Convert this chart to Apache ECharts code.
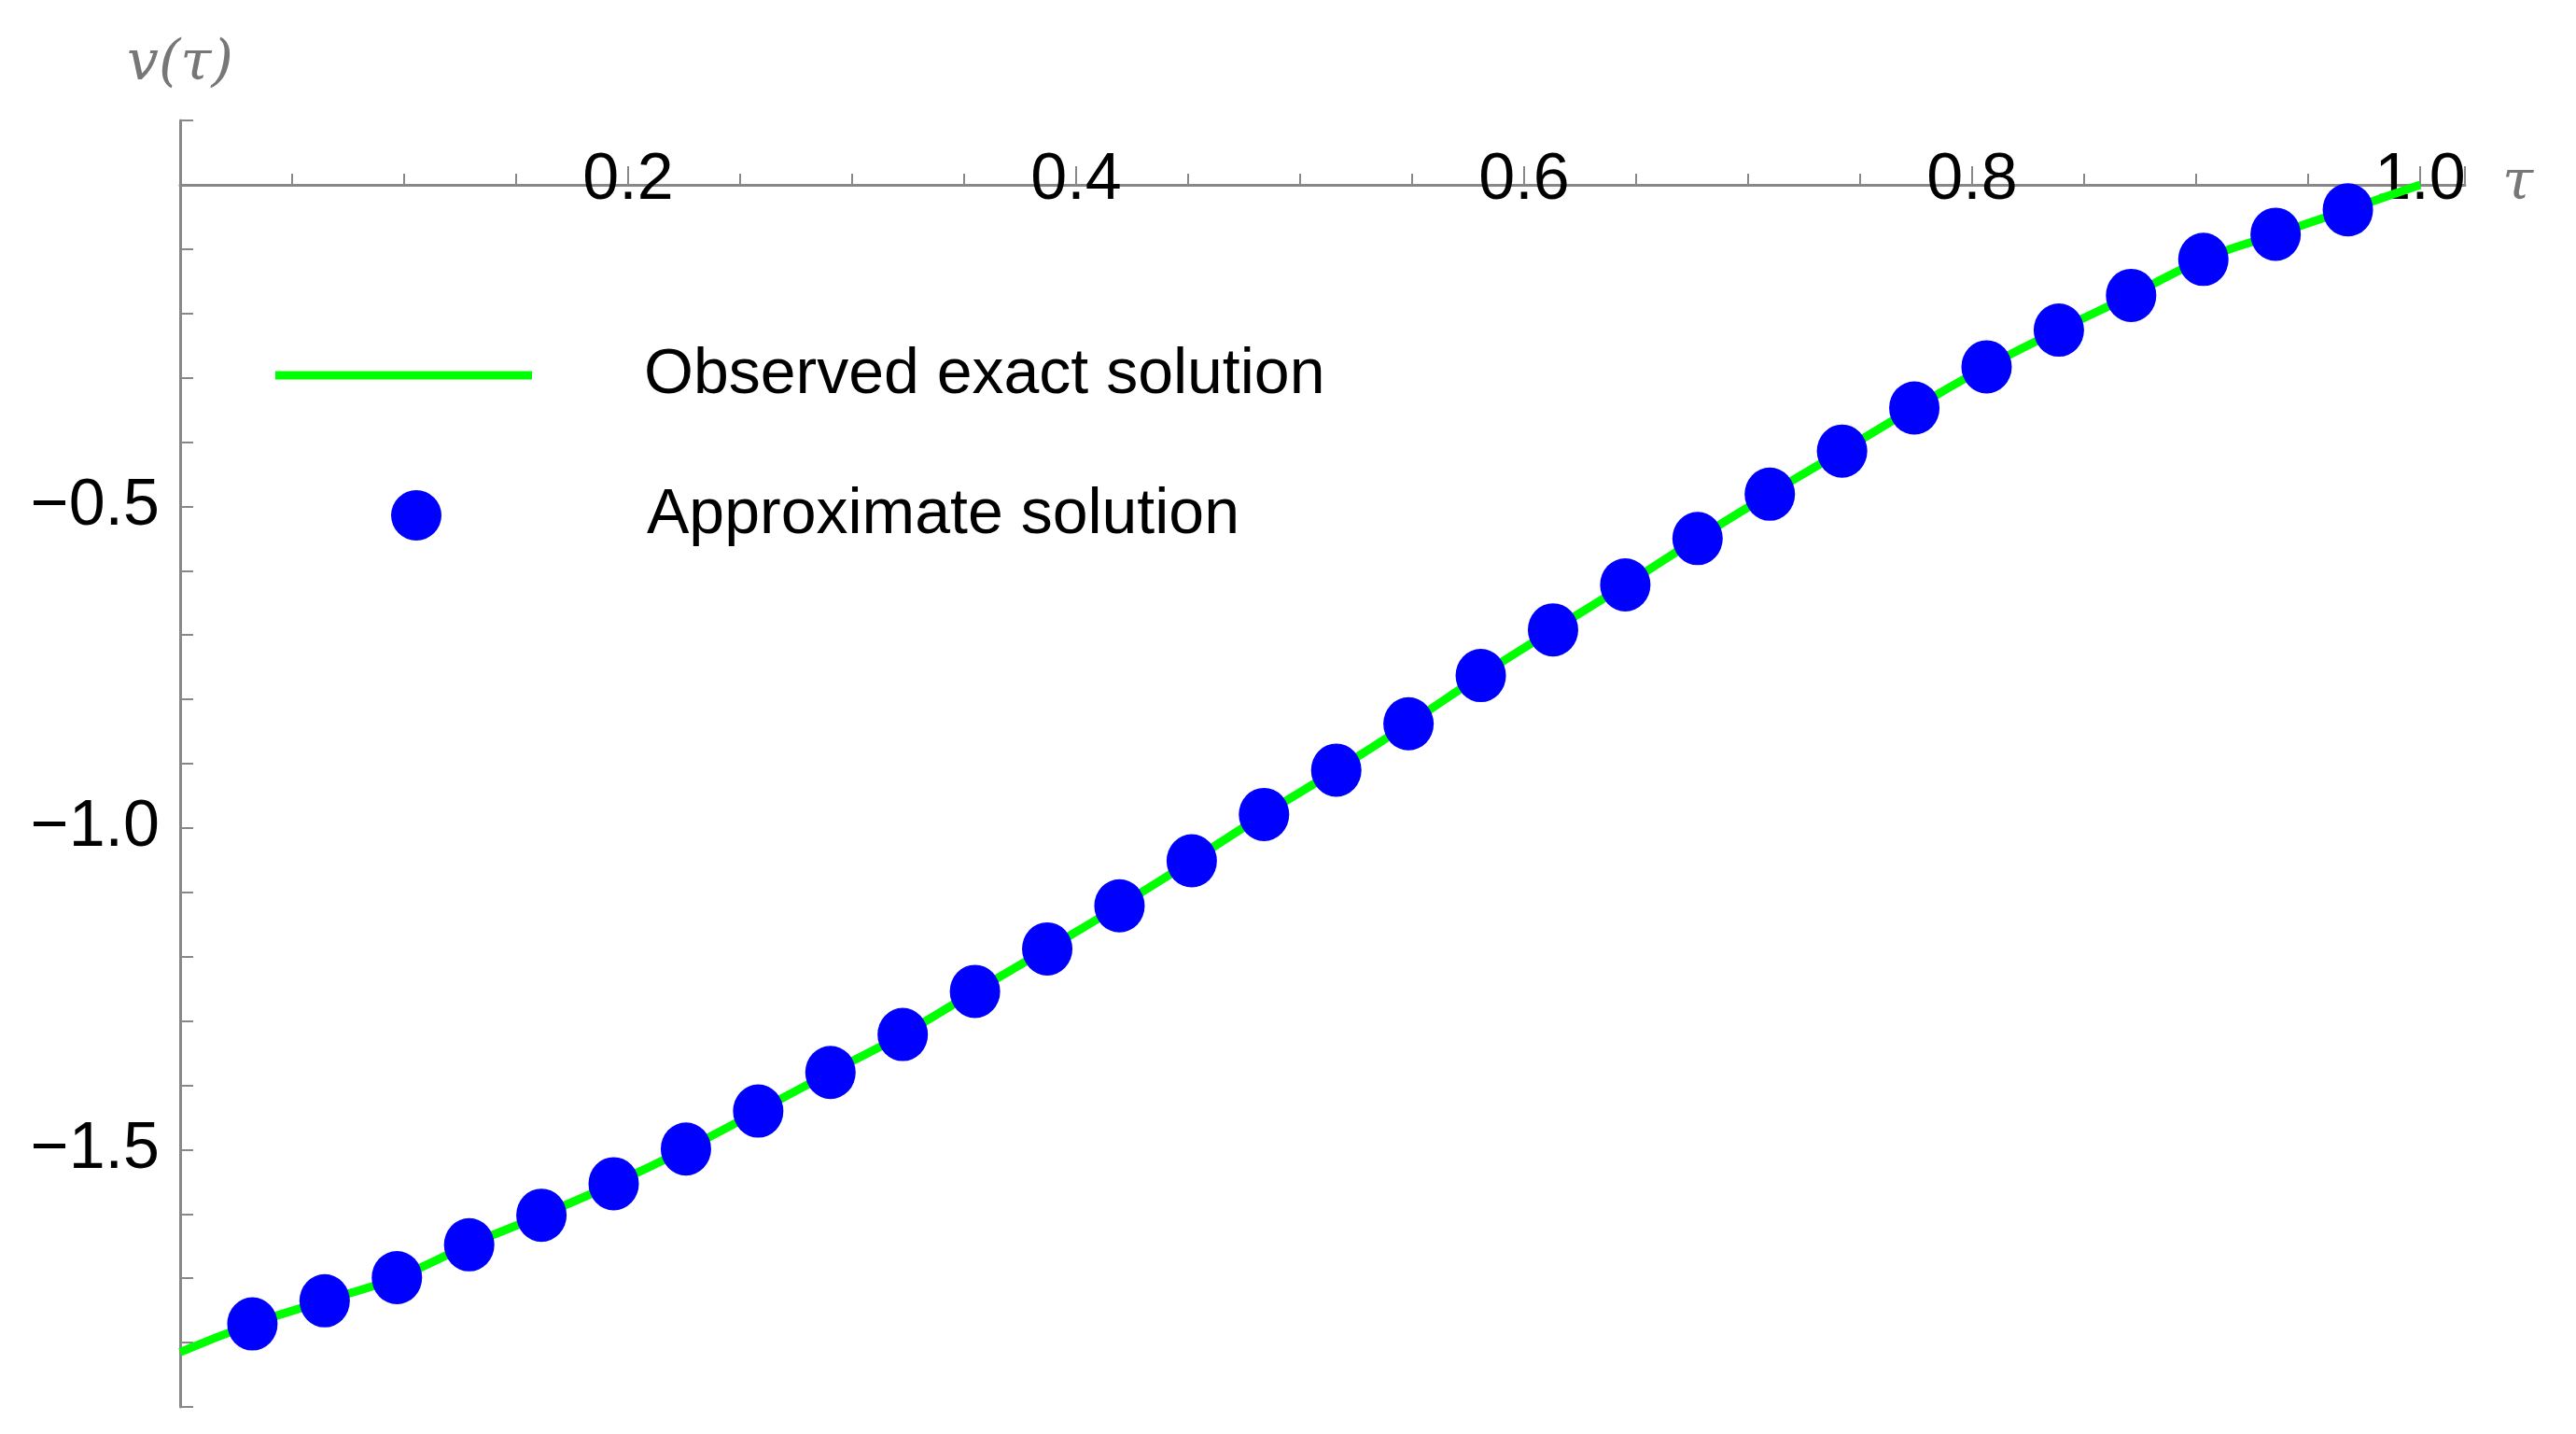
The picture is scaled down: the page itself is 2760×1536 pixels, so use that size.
<!DOCTYPE html>
<html><head><meta charset="utf-8">
<script src="https://cdn.jsdelivr.net/npm/echarts@6/dist/echarts.min.js"></script>
<style>html,body{margin:0;padding:0;background:#fff}#c{width:2760px;height:1536px}</style>
</head><body><div id="c"></div>
<script>
const tauApprox = [1,2,3,4,5,6,7,8,9,10,11,12,13,14,15,16,17,18,19,20,21,22,23,24,25,26,27,28,29,30].map(k=>k/31);
const vApprox = [-1.771,-1.735,-1.699,-1.648,-1.602,-1.553,-1.499,-1.440,-1.380,-1.321,-1.254,-1.188,-1.121,-1.051,-0.979,-0.910,-0.838,-0.763,-0.692,-0.622,-0.550,-0.481,-0.414,-0.347,-0.283,-0.226,-0.172,-0.116,-0.077,-0.039];
const tauExact = [0].concat(tauApprox, [1]);
const vExact = [-1.815].concat(vApprox, [0]);
const yLabels = [-1.5, -1.0, -0.5];

const font = 'Liberation Sans';
const chart = echarts.init(document.getElementById('c'));
chart.setOption({
  animation:false,
  backgroundColor:'#fff',
  grid:{left:193,right:119,top:129,bottom:29,containLabel:false,outerBoundsMode:'none'},
  legend:[
    {data:[{name:'Observed exact solution',icon:'rect'}],left:290,top:363,itemWidth:275,itemHeight:9,itemGap:0,
     textStyle:{fontFamily:font,fontSize:68,color:'#000',padding:[0,0,0,115]}},
    {data:[{name:'Approximate solution',icon:'circle'}],left:414,top:513,itemWidth:54,itemHeight:56,
     textStyle:{fontFamily:font,fontSize:68,color:'#000',padding:[0,0,0,215]}}
  ],
  xAxis:{type:'value',position:'top',min:0,max:1.02,interval:0.2,name:'τ',nameGap:40,
    nameTextStyle:{fontFamily:'DejaVu Serif',fontStyle:'italic',fontSize:60,color:'#777',verticalAlign:'middle'},
    axisLine:{onZero:true,lineStyle:{color:'#888',width:3}},
    axisTick:{inside:false,length:20,lineStyle:{color:'#888',width:2}},
    minorTick:{show:true,splitNumber:4,length:12,lineStyle:{color:'#888',width:2}},
    axisLabel:{inside:true,fontFamily:font,fontSize:70,color:'#000',margin:30,showMinLabel:false,showMaxLabel:true,
      formatter:v=>(Math.abs(v-1.02)<1e-6||v===0)?'':v.toFixed(1)},
    splitLine:{show:false}},
  yAxis:{type:'value',min:-1.9,max:0.1,interval:0.1,name:'v(τ)',nameGap:30,
    nameTextStyle:{fontFamily:'DejaVu Serif',fontStyle:'italic',fontSize:60,color:'#777',align:'center'},
    axisLine:{onZero:false,lineStyle:{color:'#888',width:3}},
    axisTick:{inside:true,length:14,lineStyle:{color:'#888',width:2}},
    axisLabel:{fontFamily:font,fontSize:70,color:'#000',margin:22,
      formatter:v=>{const r=Math.round(v*10)/10; return yLabels.some(y=>Math.abs(y-r)<1e-6)?'−'+Math.abs(r).toFixed(1):'';}},
    splitLine:{show:false}},
  series:[
    {name:'Observed exact solution',type:'line',data:tauExact.map((t,i)=>[t,vExact[i]]),smooth:true,showSymbol:false,
     lineStyle:{color:'#00ff00',width:9},itemStyle:{color:'#00ff00'},z:2},
    {name:'Approximate solution',type:'scatter',data:tauApprox.map((t,i)=>[t,vApprox[i]]),symbol:'circle',symbolSize:[54,57],
     itemStyle:{color:'#0000ff',opacity:1},z:3}
  ]
});
</script></body></html>
